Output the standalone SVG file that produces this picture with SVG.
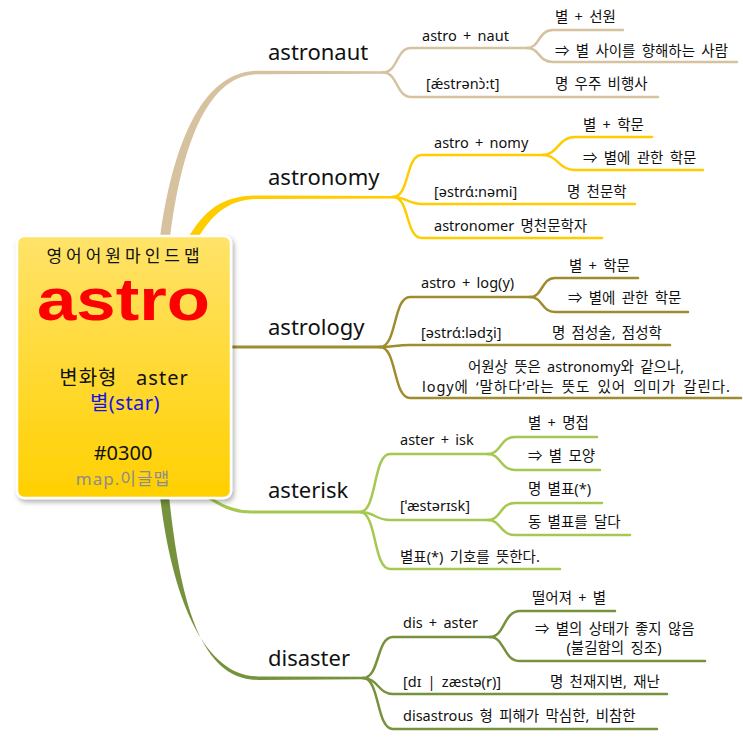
<svg xmlns="http://www.w3.org/2000/svg" width="743" height="743" viewBox="0 0 743 743">
<defs>
<linearGradient id="cg" x1="0" y1="0" x2="0" y2="1">
<stop offset="0" stop-color="#FFE36A"/>
<stop offset="1" stop-color="#FFD000"/>
</linearGradient>
<filter id="sh" x="-10%" y="-10%" width="130%" height="130%">
<feDropShadow dx="2" dy="3" stdDeviation="2.5" flood-color="#000" flood-opacity="0.3"/>
</filter>
<style>
.t{font-family:"Noto Sans","Noto Sans CJK KR",sans-serif;fill:#111}
.m{font-size:22px}
.s{font-size:14.5px;word-spacing:2.5px}
.c{fill:none;stroke-width:2.5;stroke-linecap:round}
.c1{stroke:#D6C29E}.f1{fill:#D6C29E}
.c2{stroke:#FFCC00}.f2{fill:#FFCC00}
.c3{stroke:#9F8C2E}
.c4{stroke:#A5C850}
.c5{stroke:#76923C}.f5{fill:#76923C}
</style>
</defs>
<rect width="743" height="743" fill="#fff"/>
<g id="connectors">
<!-- astronaut -->
<path class="f1" d="M160,238 C172,150 200,70.8 258,70.8 L383,71.3 L383,73.8 L258,74.2 C206,74.2 181,150 170,238 Z"/>
<path class="c c1" d="M383,72.5 C398,72.5 396,48 411,48 H527"/>
<path class="c c1" d="M383,72.5 C398,72.5 396,97 411,97 H658"/>
<path class="c c1" d="M527,48 C540,48 538,30 553,30 H623"/>
<path class="c c1" d="M527,48 C540,48 538,62 553,62 H737"/>
<!-- astronomy -->
<path class="f2" d="M188,238 C205,210 222,195.6 258,195.6 L393,196 L393,198.5 L258,199 C228,199 212,215 198,238 Z"/>
<path class="c c2" d="M393,197 C410,197 405,155 422,155 H543"/>
<path class="c c2" d="M393,197 C406,197 408,204 422,204 H635"/>
<path class="c c2" d="M393,197 C410,197 405,238 422,238 H602"/>
<path class="c c2" d="M543,155 C558,155 558,137 575,137 H652"/>
<path class="c c2" d="M543,155 C558,155 558,170 575,170 H703"/>
<!-- astrology -->
<path class="c c3" style="stroke-width:3" d="M225,347 H380"/>
<path class="c c3" d="M380,347 C397,347 393,297 410,297 H530"/>
<path class="c c3" d="M380,347 C395,347 395,345 410,345 H670"/>
<path class="c c3" d="M380,347 C397,347 393,398 410,398 H741"/>
<path class="c c3" d="M530,297 C543,297 541,278 555,278 H638"/>
<path class="c c3" d="M530,297 C543,297 541,312 555,312 H688"/>
<!-- asterisk -->
<path class="c c4" style="stroke-width:3" d="M205,495 C220,505 232,512 252,512 H360"/>
<path class="c c4" d="M360,512 C377,512 373,454 390,454 H488"/>
<path class="c c4" d="M360,512 C375,512 375,520 390,520 H488"/>
<path class="c c4" d="M360,512 C377,512 373,569 390,569 H560"/>
<path class="c c4" d="M488,454 C501,454 500,437 515,437 H597"/>
<path class="c c4" d="M488,454 C501,454 500,470 515,470 H600"/>
<path class="c c4" d="M488,520 C501,520 500,503 515,503 H602"/>
<path class="c c4" d="M488,520 C501,520 500,535 515,535 H630"/>
<!-- disaster -->
<path class="f5" d="M160,496 C172,600 205,676.4 258,676.4 L363,676.8 L363,679.3 L258,680 C200,680 180,600 169,496 Z"/>
<path class="c c5" d="M363,678 C380,678 376,637 393,637 H490"/>
<path class="c c5" d="M363,678 C378,678 378,694 393,694 H667"/>
<path class="c c5" d="M363,678 C380,678 376,729 393,729 H657"/>
<path class="c c5" d="M490,637 C505,637 503,611 520,611 H615"/>
<path class="c c5" d="M490,637 C505,637 503,661 520,661 H705"/>
</g>
<g id="center">
<rect x="17" y="236" width="214" height="262" rx="7" fill="url(#cg)" stroke="#fff" stroke-width="2.5" filter="url(#sh)"/>
<text class="t" x="125" y="262" text-anchor="middle" style="font-size:17px;letter-spacing:4px">영어어원마인드맵</text>
<text x="37" y="320" textLength="173" lengthAdjust="spacingAndGlyphs" style="font-family:'Liberation Sans',Arial,sans-serif;font-weight:bold;font-size:60px;fill:#FF0000">astro</text>
<text class="t" x="124" y="385" text-anchor="middle" style="font-size:20px;letter-spacing:1px" xml:space="preserve">변화형   aster</text>
<text class="t" x="125" y="410" text-anchor="middle" style="font-size:20px;fill:#1515E0;letter-spacing:0.5px">별(star)</text>
<text class="t" x="123" y="460" text-anchor="middle" style="font-size:20px">#0300</text>
<text class="t" x="123" y="485" text-anchor="middle" style="font-size:17px;fill:#8C8C8C;letter-spacing:1px">map.이글맵</text>
</g>
<g id="astronaut">
<text class="t m" x="268" y="60">astronaut</text>
<text class="t s" x="422" y="41">astro + naut</text>
<text class="t s" x="555" y="22">별 + 선원</text>
<text class="t s" x="555" y="56">⇒ 별 사이를 향해하는 사람</text>
<text class="t s" x="426" y="89">[ǽstrənɔ̀:t]</text>
<text class="t s" x="555" y="89">명 우주 비행사</text>
</g>
<g id="astronomy">
<text class="t m" x="268" y="185">astronomy</text>
<text class="t s" x="434" y="148">astro + nomy</text>
<text class="t s" x="583" y="130">별 + 학문</text>
<text class="t s" x="583" y="163">⇒ 별에 관한 학문</text>
<text class="t s" x="434" y="197">[əstrά:nəmi]</text>
<text class="t s" x="567" y="197">명 천문학</text>
<text class="t s" x="434" y="231">astronomer 명천문학자</text>
</g>
<g id="astrology">
<text class="t m" x="268" y="335">astrology</text>
<text class="t s" x="421" y="288">astro + log(y)</text>
<text class="t s" x="569" y="271">별 + 학문</text>
<text class="t s" x="568" y="303">⇒ 별에 관한 학문</text>
<text class="t s" x="421" y="338">[əstrά:lədʒi]</text>
<text class="t s" x="552" y="338">명 점성술, 점성학</text>
<text class="t s" x="576" y="372" text-anchor="middle">어원상 뜻은 astronomy와 같으나,</text>
<text class="t s" x="576" y="392" text-anchor="middle" textLength="308">logy에 ‘말하다’라는 뜻도 있어 의미가 갈린다.</text>
</g>
<g id="asterisk">
<text class="t m" x="268" y="498">asterisk</text>
<text class="t s" x="400" y="445">aster + isk</text>
<text class="t s" x="528" y="428">별 + 명접</text>
<text class="t s" x="528" y="461">⇒ 별 모양</text>
<text class="t s" x="400" y="511">[ˈæstərɪsk]</text>
<text class="t s" x="528" y="494">명 별표(*)</text>
<text class="t s" x="528" y="527">동 별표를 달다</text>
<text class="t s" x="400" y="562">별표(*) 기호를 뜻한다.</text>
</g>
<g id="disaster">
<text class="t m" x="268" y="666">disaster</text>
<text class="t s" x="403" y="628">dis + aster</text>
<text class="t s" x="532" y="603">떨어져 + 별</text>
<text class="t s" x="535" y="634">⇒ 별의 상태가 좋지 않음</text>
<text class="t s" x="614" y="653" text-anchor="middle">(불길함의 징조)</text>
<text class="t s" x="403" y="687">[dɪ | zæstə(r)]</text>
<text class="t s" x="550" y="687">명 천재지변, 재난</text>
<text class="t s" x="403" y="721">disastrous 형 피해가 막심한, 비참한</text>
</g>
</svg>
